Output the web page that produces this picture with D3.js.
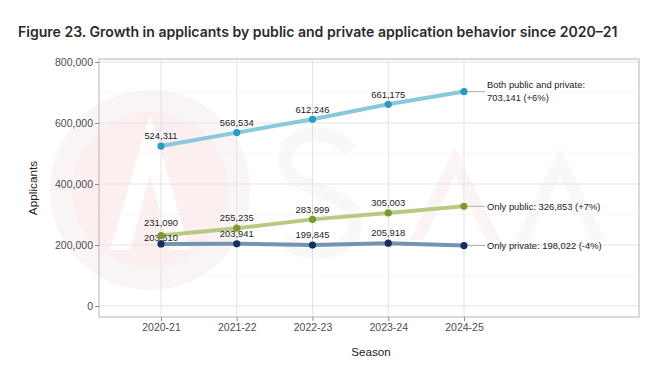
<!DOCTYPE html>
<html><head><meta charset="utf-8">
<script src="https://cdn.jsdelivr.net/npm/d3@7"></script>
<style>body{margin:0;background:#fff}svg{display:block}</style>
</head><body><svg id="c" width="671" height="375"></svg>
<script>
const seasons = ["2020-21","2021-22","2022-23","2023-24","2024-25"];
const bothValues = [524311, 568534, 612246, 661175, 703141];
const publicValues = [231090, 255235, 283999, 305003, 326853];
const privateValues = [203510, 203941, 199845, 205918, 198022];
const seriesNames = ["Both public and private", "Only public", "Only private"];
const yTicks = [0, 200000, 400000, 600000, 800000];
const yMinorTicks = [100000, 300000, 500000, 700000];
const titleText = "Figure 23. Growth in applicants by public and private application behavior since 2020\u201321";

const series = [
  {name: seriesNames[0], values: bothValues, line: "#88c9db", point: "#2b9bbf"},
  {name: seriesNames[1], values: publicValues, line: "#b8ca82", point: "#7a9a2e"},
  {name: seriesNames[2], values: privateValues, line: "#7592b1", point: "#11305e"}
];

const svg = d3.select("#c");
const panel = {left: 99, right: 639, top: 59, bottom: 317};

const x = d3.scalePoint().domain(seasons).range([161, 464]);
const y = d3.scaleLinear().domain([0, 800000]).range([306, 62]);
const fmt = d3.format(",");

// watermark (decorative, faint)
const wm = svg.append("g").attr("opacity", 0.4);
wm.append("circle").attr("cx", 150).attr("cy", 190).attr("r", 100).attr("fill", "#f1e6e8");
wm.append("circle").attr("cx", 150).attr("cy", 190).attr("r", 78).attr("fill", "#f6d9db");
wm.append("path").attr("d", "M110,250 L150,115 L190,250 L170,250 L150,175 L130,250 Z").attr("fill", "#ffffff");
wm.append("path").attr("d", "M350,150 C330,125 285,130 285,160 C285,195 355,185 355,225 C355,255 305,260 285,240")
  .attr("fill", "none").attr("stroke", "#eceef2").attr("stroke-width", 14);
wm.append("path").attr("d", "M410,240 L455,148 L500,240 L486,240 L455,176 L424,240 Z").attr("fill", "#f8e4e4");
wm.append("path").attr("d", "M515,240 L560,148 L605,240 L591,240 L560,176 L529,240 Z").attr("fill", "#eceef1");

// title
const title = svg.append("text").attr("x", 18).attr("y", 37)
  .attr("font-family", "Inter, 'Noto Sans', sans-serif").attr("font-weight", 600)
  .attr("font-size", 15).attr("fill", "#2b2b2b").text(titleText);
const tl = title.node().getComputedTextLength();
title.attr("font-size", 15 * 600 / tl);

// grid
const g = svg.append("g");
g.selectAll(".ymin").data(yMinorTicks).enter().append("line")
  .attr("x1", panel.left).attr("x2", panel.right).attr("y1", d => y(d)).attr("y2", d => y(d))
  .attr("stroke", "#f0f0f0").attr("stroke-width", 0.6);
g.selectAll(".ymaj").data(yTicks).enter().append("line")
  .attr("x1", panel.left).attr("x2", panel.right).attr("y1", d => y(d)).attr("y2", d => y(d))
  .attr("stroke", "#e3e3e3").attr("stroke-width", 1);
g.selectAll(".xmaj").data(seasons).enter().append("line")
  .attr("x1", d => x(d)).attr("x2", d => x(d)).attr("y1", panel.top).attr("y2", panel.bottom)
  .attr("stroke", "#e3e3e3").attr("stroke-width", 1);
g.append("rect").attr("x", panel.left).attr("y", panel.top)
  .attr("width", panel.right - panel.left).attr("height", panel.bottom - panel.top)
  .attr("fill", "none").attr("stroke", "#b5b5b5").attr("stroke-width", 1);

// axes
const yAxis = svg.append("g").attr("transform", `translate(${panel.left},0)`)
  .call(d3.axisLeft(y).tickValues(yTicks).tickFormat(fmt).tickSize(4).tickPadding(2));
const xAxis = svg.append("g").attr("transform", `translate(0,${panel.bottom})`)
  .call(d3.axisBottom(x).tickSize(4).tickPadding(3));
[yAxis, xAxis].forEach(a => {
  a.select(".domain").remove();
  a.selectAll(".tick line").attr("stroke", "#8a8a8a");
  a.selectAll(".tick text").attr("fill", "#4d4d4d").attr("font-size", 10.5)
    .attr("font-family", "'Liberation Sans', Arial, sans-serif");
});

// axis titles
svg.append("text").attr("x", 371).attr("y", 356).attr("text-anchor", "middle")
  .attr("font-family", "'Liberation Sans', Arial, sans-serif").attr("font-size", 11.6).attr("fill", "#1a1a1a").text("Season");
svg.append("text").attr("transform", "translate(37,188) rotate(-90)").attr("text-anchor", "middle")
  .attr("font-family", "'Liberation Sans', Arial, sans-serif").attr("font-size", 11.8).attr("fill", "#1a1a1a").text("Applicants");

// lines
const line = d3.line().x((d, i) => x(seasons[i])).y(d => y(d));
series.forEach(s => {
  svg.append("path").datum(s.values).attr("d", line).attr("fill", "none")
    .attr("stroke", s.line).attr("stroke-width", 4).attr("stroke-linecap", "round");
});

// value labels with simple repel per column
const labelFont = "'Liberation Sans', Arial, sans-serif";
seasons.slice(0, -1).forEach((season, i) => {
  const items = series.map(s => ({v: s.values[i], cy: y(s.values[i]) - 10}));
  items.sort((a, b) => a.cy - b.cy);
  for (let k = 1; k < items.length; k++) {
    const gap = items[k].cy - items[k - 1].cy;
    if (gap < 15) {
      const push = (15 - gap) / 2;
      items[k - 1].cy -= push; items[k].cy += push;
    }
  }
  items.forEach(it => {
    svg.append("text").attr("x", x(season)).attr("y", it.cy).attr("dy", "0.35em")
      .attr("text-anchor", "middle").attr("font-family", labelFont).attr("font-size", 9.4)
      .attr("fill", "#222").text(fmt(it.v));
  });
});

// points
series.forEach(s => {
  svg.append("g").selectAll("circle").data(s.values).enter().append("circle")
    .attr("cx", (d, i) => x(seasons[i])).attr("cy", d => y(d)).attr("r", 3.6).attr("fill", s.point);
});

// end labels with connectors
const last = seasons.length - 1;
series.forEach(s => {
  const v = s.values[last], prev = s.values[last - 1];
  const pct = Math.round((v / prev - 1) * 100);
  const pctStr = (pct >= 0 ? "+" : "") + pct + "%";
  const px = x(seasons[last]), py = y(v);
  svg.append("line").attr("x1", px + 4).attr("x2", 485).attr("y1", py).attr("y2", py)
    .attr("stroke", "#a0a0a0").attr("stroke-width", 0.8);
  const t = svg.append("text").attr("x", 487).attr("font-family", labelFont)
    .attr("font-size", 9.4).attr("fill", "#222");
  if (s === series[0]) {
    t.append("tspan").attr("x", 487).attr("y", py - 6.5).attr("dy", "0.35em").text(s.name + ":");
    t.append("tspan").attr("x", 487).attr("y", py + 6.5).attr("dy", "0.35em").text(fmt(v) + " (" + pctStr + ")");
  } else {
    t.attr("y", py).attr("dy", "0.35em").text(s.name + ": " + fmt(v) + " (" + pctStr + ")");
  }
});
</script></body></html>
